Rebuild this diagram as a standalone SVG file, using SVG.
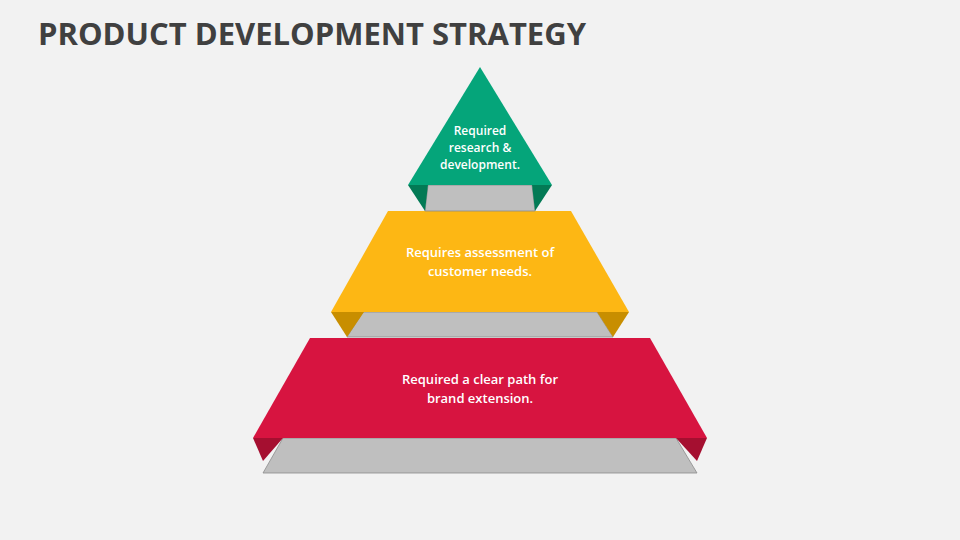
<svg xmlns="http://www.w3.org/2000/svg" width="960" height="540" viewBox="0 0 960 540">
<style>
text{font-family:"Open Sans","Liberation Sans",sans-serif;font-weight:600;fill:#fff;font-size:13px;text-anchor:middle}
.g{fill:#bfbfbf;stroke:#8c8c8c;stroke-width:0.8}
</style>
<rect width="960" height="540" fill="#f2f2f2"/>
<text x="38" y="45" style="font-size:31px;font-weight:700;fill:#404040;text-anchor:start">PRODUCT DEVELOPMENT STRATEGY</text>
<g id="tier3">
<polygon class="g" points="283,438 676,438 697,473 263,473"/>
<polygon points="253,438 283,438 263,461" fill="#a50f30"/>
<polygon points="707,438 676,438 697,461" fill="#a50f30"/>
<polygon points="310,338 650,338 707,438 253,438" fill="#d71440"/>
<text x="480" y="384">Required a clear path for</text>
<text x="480" y="403">brand extension.</text>
</g>
<g id="tier2">
<polygon class="g" points="363,312 597,312 613,337 347,337"/>
<polygon points="331,312 364,312 347,337" fill="#c88e00"/>
<polygon points="629,312 597,312 613,337" fill="#c88e00"/>
<polygon points="388,211 571,211 629,312 331,312" fill="#fdb714"/>
<text x="480" y="257">Requires assessment of</text>
<text x="480" y="276">customer needs.</text>
</g>
<g id="tier1">
<polygon class="g" points="428,185 532,185 535,211 425,211"/>
<polygon points="408,185 428,185 425,211" fill="#037a55"/>
<polygon points="552,185 532,185 535,211" fill="#037a55"/>
<polygon points="480,67 552,185 408,185" fill="#05a57a"/>
<text x="480" y="135" style="font-size:12px">Required</text>
<text x="480" y="152" style="font-size:12px">research &amp;</text>
<text x="480" y="169" style="font-size:12px">development.</text>
</g>
<g id="connectors"/>
</svg>
